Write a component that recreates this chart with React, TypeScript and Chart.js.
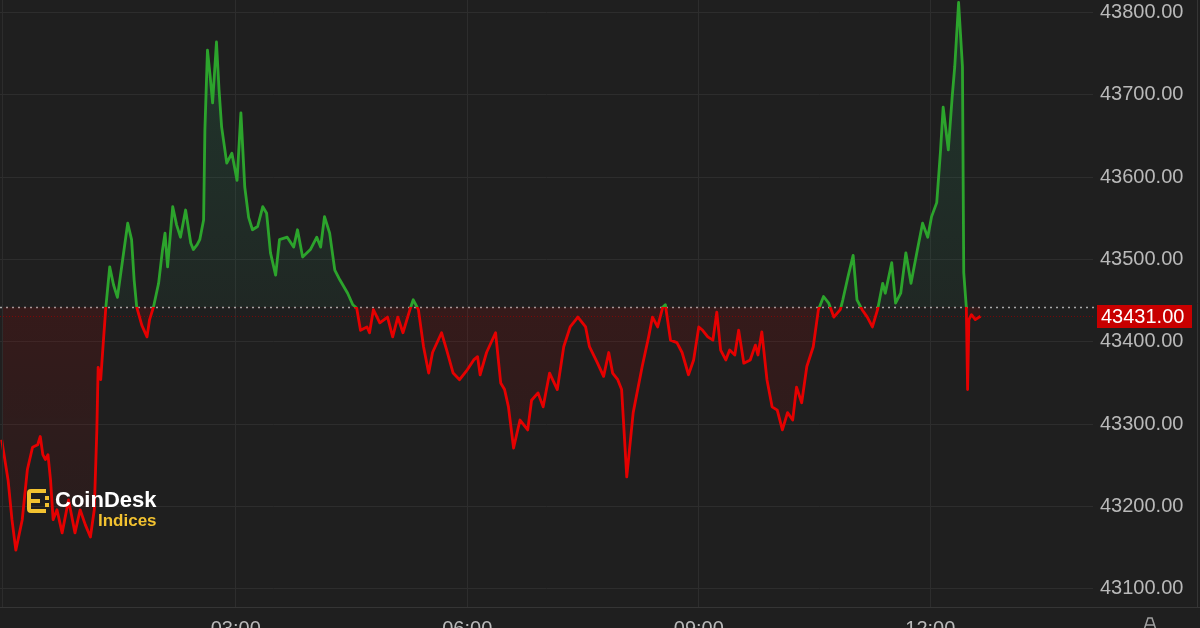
import React, { useEffect, useRef } from "react";
import { Chart, registerables } from "chart.js";

Chart.register(...registerables);

// minutes since 00:00 (negative = previous day)
const times = [
  -2, 3, 6, 9, 14, 18, 22, 26, 28, 30,
  32, 34, 36, 38, 41, 45, 50, 55, 59, 63,
  67, 70, 72, 73, 75, 77, 79, 82, 85, 88,
  92, 96, 99, 101, 103, 107, 111, 113, 116, 120,
  123, 125, 127, 131, 134, 137, 141, 145, 147, 150,
  152, 155, 156, 158, 160, 162, 165, 167, 169, 173,
  177, 181, 184, 187, 190, 193, 197, 201, 204, 207,
  211, 214, 220, 225, 228, 232, 238, 243, 246, 249,
  253, 257, 261, 267, 271, 274, 277, 282, 284, 287,
  292, 298, 302, 306, 310, 316, 318, 322, 326, 330,
  333, 340, 344, 349, 354, 360, 365, 368, 370, 375,
  382, 386, 389, 392, 396, 401, 407, 410, 415, 419,
  424, 430, 435, 440, 446, 452, 455, 461, 466, 470,
  473, 477, 480, 484, 489, 496, 501, 504, 508, 512,
  514, 518, 523, 527, 532, 536, 540, 543, 547, 551,
  554, 557, 561, 564, 568, 571, 575, 580, 584, 586,
  589, 593, 597, 601, 605, 609, 613, 616, 620, 624,
  629, 633, 637, 641, 645, 650, 652, 656, 660, 663,
  667, 671, 675, 679, 683, 685, 690, 693, 697, 701,
  705, 710, 714, 718, 721, 725, 728, 730, 734, 737,
  739, 742, 745, 746, 748, 749, 750, 752, 755, 759,
];

const prices = [
  43281, 43232, 43184, 43147, 43184, 43245, 43272, 43275, 43285, 43263,
  43257, 43263, 43232, 43184, 43196, 43168, 43208, 43168, 43196, 43178,
  43163, 43196, 43293, 43369, 43354, 43399, 43442, 43491, 43469, 43454,
  43499, 43544, 43524, 43475, 43442, 43420, 43406, 43427, 43442, 43471,
  43511, 43532, 43491, 43564, 43542, 43527, 43560, 43520, 43512, 43518,
  43524, 43548, 43657, 43754, 43724, 43690, 43764, 43706, 43661, 43617,
  43629, 43596, 43678, 43588, 43551, 43536, 43540, 43564, 43556, 43508,
  43481, 43524, 43527, 43515, 43536, 43503, 43512, 43527, 43515, 43552,
  43532, 43487, 43475, 43459, 43445, 43441, 43414, 43418, 43411, 43439,
  43423, 43430, 43406, 43430, 43411, 43442, 43451, 43439, 43394, 43362,
  43387, 43411, 43390, 43362, 43354, 43366, 43378, 43382, 43360, 43387,
  43411, 43350, 43342, 43321, 43271, 43305, 43293, 43329, 43338, 43321,
  43362, 43342, 43394, 43418, 43430, 43418, 43394, 43375, 43358, 43387,
  43362, 43354, 43342, 43236, 43314, 43370, 43406, 43430, 43418, 43442,
  43445, 43402, 43399, 43387, 43360, 43378, 43418, 43414, 43406, 43402,
  43436, 43390, 43378, 43390, 43384, 43414, 43374, 43378, 43396, 43384,
  43412, 43354, 43321, 43317, 43293, 43314, 43305, 43345, 43326, 43370,
  43394, 43439, 43455, 43447, 43430, 43439, 43451, 43479, 43505, 43451,
  43439, 43430, 43418, 43439, 43471, 43459, 43496, 43447, 43459, 43508,
  43471, 43512, 43544, 43527, 43552, 43569, 43633, 43685, 43633, 43697,
  43734, 43812, 43734, 43484, 43442, 43342, 43427, 43433, 43427, 43431,
];

const baselinePrice = 43442;
const lastPrice = 43431;
const yTicks = [43100, 43200, 43300, 43400, 43500, 43600, 43700, 43800];
const xTicks = [180, 360, 540, 720];
const xTickLabels = ["03:00", "06:00", "09:00", "12:00"];

const X_MIN = -3.3;
const X_MAX = 846.5;
const Y_MIN = 43078;
const Y_MAX = 43815;

const BG = "#1f1f1f";
const GRID = "#2d2d2d";
const TEXT = "#b9b9b9";
const GREEN = "#2ca42c";
const RED = "#e50000";
const FONT = "'Liberation Sans', Arial, sans-serif";

function splitGradient(chart: any, topA: string, topB: string, botA: string, botB: string) {
  const area = chart.chartArea;
  if (!area) return topA;
  const y = chart.scales.y.getPixelForValue(baselinePrice);
  let f = (y - area.top) / (area.bottom - area.top);
  f = Math.max(0, Math.min(1, f));
  const g = chart.ctx.createLinearGradient(0, area.top, 0, area.bottom);
  g.addColorStop(0, topA);
  g.addColorStop(f, topB);
  g.addColorStop(f, botA);
  g.addColorStop(1, botB);
  return g;
}

const overlay = {
  id: "overlay",
  beforeDraw(chart: any) {
    const { ctx, width, height } = chart;
    ctx.save();
    ctx.fillStyle = BG;
    ctx.fillRect(0, 0, width, height);
    ctx.restore();
  },
  beforeDatasetsDraw(chart: any) {
    const { ctx, chartArea: a, scales } = chart;
    const y = scales.y;
    const by = Math.round(y.getPixelForValue(baselinePrice)) + 0.5;
    const py = Math.round(y.getPixelForValue(lastPrice)) + 0.5;
    ctx.save();
    ctx.lineWidth = 1;
    ctx.setLineDash([1, 2]);
    ctx.strokeStyle = "rgba(150,0,0,0.7)";
    ctx.beginPath();
    ctx.moveTo(a.left, py);
    ctx.lineTo(a.right, py);
    ctx.stroke();
    ctx.setLineDash([2, 4]);
    ctx.lineWidth = 1.5;
    ctx.strokeStyle = "rgba(215,215,215,0.75)";
    ctx.beginPath();
    ctx.moveTo(a.left, by);
    ctx.lineTo(a.right + 2, by);
    ctx.stroke();
    ctx.restore();
  },
  afterDraw(chart: any) {
    const { ctx, chartArea: a, scales, width } = chart;
    const y = scales.y;
    ctx.save();
    ctx.strokeStyle = "#353535";
    ctx.lineWidth = 1;
    ctx.beginPath();
    ctx.moveTo(0, Math.round(a.bottom) + 0.5);
    ctx.lineTo(width, Math.round(a.bottom) + 0.5);
    ctx.moveTo(width - 2.5, 0);
    ctx.lineTo(width - 2.5, a.bottom);
    ctx.stroke();
    ctx.strokeStyle = "#2c2c2c";
    ctx.beginPath();
    ctx.moveTo(2.5, 0);
    ctx.lineTo(2.5, a.bottom);
    ctx.stroke();
    // last price label
    const py = y.getPixelForValue(lastPrice);
    ctx.fillStyle = "#c80000";
    ctx.fillRect(a.right + 4, Math.round(py - 11.5), 95, 23);
    ctx.fillStyle = "#ffffff";
    ctx.font = `20px ${FONT}`;
    ctx.textAlign = "left";
    ctx.textBaseline = "middle";
    ctx.fillText(lastPrice.toFixed(2), a.right + 8, py + 1);
    ctx.restore();
  },
};

function fmtTime(m: number) {
  const idx = xTicks.indexOf(m);
  if (idx >= 0) return xTickLabels[idx];
  const h = Math.floor(m / 60);
  const mm = Math.round(m % 60);
  return `${String(h).padStart(2, "0")}:${String(mm).padStart(2, "0")}`;
}

function zeroPad(s: any) {
  s.paddingTop = 0;
  s.paddingBottom = 0;
  s.paddingLeft = 0;
  s.paddingRight = 0;
}

export default function App() {
  const ref = useRef<HTMLCanvasElement | null>(null);

  useEffect(() => {
    document.body.style.margin = "0";
    document.body.style.background = BG;
    if (!ref.current) return;
    const chart = new Chart(ref.current, {
      type: "line",
      data: {
        datasets: [
          {
            data: times.map((t, i) => ({ x: t, y: prices[i] })),
            borderWidth: 2.8,
            pointRadius: 0,
            tension: 0,
            borderJoinStyle: "round",
            borderColor: (c: any) => splitGradient(c.chart, GREEN, GREEN, RED, RED),
            backgroundColor: (c: any) =>
              splitGradient(
                c.chart,
                "rgba(40,150,100,0.2)",
                "rgba(40,150,100,0.07)",
                "rgba(170,0,0,0.16)",
                "rgba(170,0,0,0.03)"
              ),
            fill: { target: { value: baselinePrice } },
          } as any,
        ],
      },
      options: {
        animation: false,
        responsive: false,
        devicePixelRatio: 1,
        layout: { padding: 0, autoPadding: false },
        plugins: {
          legend: { display: false },
          tooltip: { enabled: false },
        },
        scales: {
          x: {
            type: "linear",
            min: X_MIN,
            max: X_MAX,
            afterBuildTicks: (s: any) => {
              s.ticks = xTicks.map((v) => ({ value: v }));
            },
            afterFit: (s: any) => {
              s.height = 43;
              zeroPad(s);
            },
            grid: { color: GRID, drawTicks: false, lineWidth: 1 },
            border: { display: false },
            ticks: {
              color: TEXT,
              font: { family: FONT, size: 20 },
              padding: 10,
              maxRotation: 0,
              callback: (v: any) => fmtTime(Number(v)),
            },
          },
          y: {
            type: "linear",
            position: "right",
            min: Y_MIN,
            max: Y_MAX,
            afterBuildTicks: (s: any) => {
              s.ticks = yTicks.map((v) => ({ value: v }));
            },
            afterFit: (s: any) => {
              s.width = 107;
              zeroPad(s);
            },
            grid: { color: GRID, drawTicks: false, lineWidth: 1 },
            border: { display: false },
            ticks: {
              color: TEXT,
              font: { family: FONT, size: 20 },
              padding: 7,
              callback: (v: any) => Number(v).toFixed(2),
            },
          },
        },
      },
      plugins: [overlay],
    });
    return () => chart.destroy();
  }, []);

  return (
    <div style={{ position: "relative", width: 1200, height: 628, overflow: "hidden", background: BG }}>
      <canvas ref={ref} width={1200} height={650} style={{ display: "block" }} />
      <svg
        width={26}
        height={26}
        viewBox="0 0 26 26"
        style={{ position: "absolute", left: 26, top: 488 }}
      >
        <path
          d="M20 3 H5 Q3 3 3 5 V21 Q3 23 5 23 H20"
          fill="none"
          stroke="#f2c230"
          strokeWidth={4}
        />
        <path d="M4 13 H14" stroke="#f2c230" strokeWidth={4} />
        <rect x={19} y={8} width={4} height={4} fill="#f2c230" />
        <rect x={19} y={15} width={4} height={4} fill="#f2c230" />
      </svg>
      <div
        style={{
          position: "absolute",
          left: 55,
          top: 489,
          fontFamily: FONT,
          fontWeight: 700,
          fontSize: 22,
          lineHeight: "22px",
          color: "#ffffff",
          whiteSpace: "nowrap",
        }}
      >
        CoinDesk
      </div>
      <div
        style={{
          position: "absolute",
          left: 98,
          top: 512,
          fontFamily: FONT,
          fontWeight: 700,
          fontSize: 17,
          lineHeight: "17px",
          color: "#f2c230",
          whiteSpace: "nowrap",
        }}
      >
        Indices
      </div>
      <svg
        width={20}
        height={20}
        viewBox="0 0 20 20"
        style={{ position: "absolute", left: 1140, top: 614 }}
      >
        <path d="M4 16 L8 4 H12 L16 16" fill="none" stroke="#a0a0a0" strokeWidth={1.5} />
        <path d="M6 11 H14" stroke="#a0a0a0" strokeWidth={1.5} />
      </svg>
    </div>
  );
}
